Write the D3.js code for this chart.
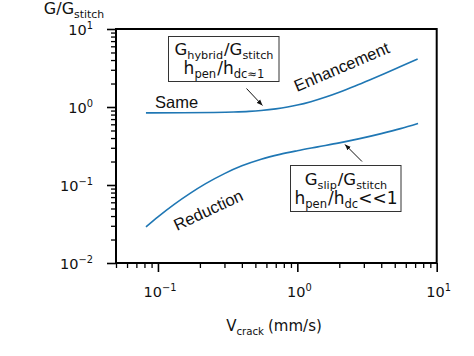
<!DOCTYPE html>
<html><head><meta charset="utf-8">
<script src="https://cdn.jsdelivr.net/npm/d3@7"></script>
<style>body{margin:0;background:#fff}svg{display:block}text{white-space:pre}</style></head>
<body><svg id="c" width="474" height="356"></svg>
<script>
// ---- data ----
const hybridV = [0.082, 0.15, 0.25, 0.35, 0.45, 0.55, 0.7, 0.85, 1.0, 1.25, 1.6, 2.0, 2.6, 3.3, 4.2, 5.4, 7.3];
const hybridG = [0.84, 0.843, 0.85, 0.862, 0.879, 0.902, 0.945, 0.998, 1.058, 1.171, 1.344, 1.55, 1.863, 2.224, 2.675, 3.256, 4.13];
const slipV = [0.082, 0.1, 0.13, 0.17, 0.22, 0.3, 0.4, 0.55, 0.75, 1.0, 1.4, 2.0, 2.8, 4.0, 5.5, 7.35];
const slipG = [0.029, 0.039, 0.056, 0.078, 0.104, 0.140, 0.176, 0.214, 0.247, 0.275, 0.308, 0.347, 0.393, 0.456, 0.528, 0.615];
const xMajor = [0.1, 1, 10];
const xExp = ["\u22121", "0", "1"];
const yMajor = [0.01, 0.1, 1, 10];
const yExp = ["\u22122", "\u22121", "0", "1"];

const svg = d3.select("#c");
const L = 116, R = 436.7, T = 29, B = 263;
const x = d3.scaleLog().domain([0.05, 10]).range([L, R]);
const y = d3.scaleLog().domain([0.01, 10]).range([B, T]);

const minorX = [], minorY = [];
[0.01, 0.1, 1].forEach(d => { for (let k = 2; k <= 9; k++) { const v = d * k;
  if (v >= 0.05 && v <= 10) minorX.push(v); if (v <= 10) minorY.push(v); } });

// axes
function styleAxis(g, w) { g.select(".domain").remove(); g.selectAll("line").attr("stroke", "#000").attr("stroke-width", w); g.selectAll("text").remove(); }
svg.append("g").attr("transform", `translate(0,${B})`).call(d3.axisBottom(x).tickValues(xMajor).tickSize(9)).call(g => styleAxis(g, 1.6));
svg.append("g").attr("transform", `translate(0,${B})`).call(d3.axisBottom(x).tickValues(minorX).tickSize(5)).call(g => styleAxis(g, 1.3));
svg.append("g").attr("transform", `translate(${L},0)`).call(d3.axisLeft(y).tickValues(yMajor).tickSize(9)).call(g => styleAxis(g, 1.6));
svg.append("g").attr("transform", `translate(${L},0)`).call(d3.axisLeft(y).tickValues(minorY).tickSize(5)).call(g => styleAxis(g, 1.3));

svg.append("rect").attr("x", L).attr("y", T).attr("width", R - L).attr("height", B - T)
  .attr("fill", "none").attr("stroke", "#000").attr("stroke-width", 2);

// rich text helper: lays out pieces as separate text runs, measured
function rich(x0, y0, parts, opts) {
  const g = svg.append("g");
  let cx = 0;
  parts.forEach(p => {
    const fs = p.s ? opts.size * 0.68 : opts.size;
    const dy = p.s === "sub" ? opts.size * 0.25 : p.s === "sup" ? -opts.size * 0.42 : 0;
    const t = g.append("text").attr("x", cx).attr("y", dy)
      .attr("font-family", opts.font || "DejaVu Sans")
      .attr("font-size", fs).attr("fill", "#111").text(p.t);
    cx += t.node().getComputedTextLength() + (p.gap || 0);
  });
  const a = opts.anchor || "start";
  const off = a === "middle" ? -cx / 2 : a === "end" ? -cx : 0;
  g.attr("transform", `translate(${x0 + off},${y0})`);
  return g;
}

// tick labels
xMajor.forEach((v, i) => rich(x(v) + 2, 297, [{t: "10"}, {t: xExp[i], s: "sup"}], {size: 14.5, anchor: "middle"}));
yMajor.forEach((v, i) => rich(93, y(v) + 6, [{t: "10"}, {t: yExp[i], s: "sup"}], {size: 14.5, anchor: "end"}));

// axis titles
rich(274, 331, [{t: "V"}, {t: "crack", s: "sub", gap: 4}, {t: "(mm/s)"}], {size: 15, anchor: "middle"});
rich(74, 14, [{t: "G/G"}, {t: "stitch", s: "sub"}], {size: 16, anchor: "middle"});

// curves
const line = d3.line().x(d => x(d[0])).y(d => y(d[1])).curve(d3.curveMonotoneX);
svg.append("path").datum(hybridV.map((v, i) => [v, hybridG[i]])).attr("d", line)
  .attr("fill", "none").attr("stroke", "#1f77b4").attr("stroke-width", 1.6);
svg.append("path").datum(slipV.map((v, i) => [v, slipG[i]])).attr("d", line)
  .attr("fill", "none").attr("stroke", "#1f77b4").attr("stroke-width", 1.6);

// region labels
const lab = (t, x0, y0, rot) => svg.append("text").attr("transform", `translate(${x0},${y0}) rotate(${rot})`)
  .attr("font-family", "Liberation Sans, Arial").attr("font-size", 16.5).attr("fill", "#111").text(t);
lab("Same", 155, 107.5, 0);
lab("Enhancement", 297, 92, -23);
lab("Reduction", 177, 231, -25);

// boxes
svg.append("rect").attr("x", 168.5).attr("y", 36.5).attr("width", 110.5).attr("height", 45)
  .attr("fill", "#fff").attr("stroke", "#333").attr("stroke-width", 1);
rich(224, 55, [{t: "G"}, {t: "hybrid", s: "sub", gap: 1}, {t: "/G"}, {t: "stitch", s: "sub"}], {size: 16.5, anchor: "middle"});
rich(224, 73.5, [{t: "h"}, {t: "pen", s: "sub", gap: 1}, {t: "/h"}, {t: "dc", s: "sub"}, {t: "\u22481", s: "sub"}], {size: 17, anchor: "middle"});

svg.append("rect").attr("x", 290.5).attr("y", 165.5).attr("width", 110.5).attr("height", 46)
  .attr("fill", "#fff").attr("stroke", "#333").attr("stroke-width", 1);
rich(346, 185, [{t: "G"}, {t: "slip", s: "sub", gap: 1}, {t: "/G"}, {t: "stitch", s: "sub"}], {size: 16.5, anchor: "middle"});
rich(346, 203.5, [{t: "h"}, {t: "pen", s: "sub", gap: 1}, {t: "/h"}, {t: "dc", s: "sub"}, {t: "<<1"}], {size: 17, anchor: "middle"});

// arrows
svg.append("defs").append("marker").attr("id", "ah").attr("viewBox", "0 0 10 10")
  .attr("refX", 10).attr("refY", 5).attr("markerWidth", 6).attr("markerHeight", 6)
  .attr("orient", "auto").append("path").attr("d", "M0,1 L10,5 L0,9 Z").attr("fill", "#111");
svg.append("line").attr("x1", 246.5).attr("y1", 88.5).attr("x2", 262.5).attr("y2", 105.5)
  .attr("stroke", "#111").attr("stroke-width", 1).attr("marker-end", "url(#ah)");
svg.append("line").attr("x1", 362).attr("y1", 161.5).attr("x2", 345).attr("y2", 144.5)
  .attr("stroke", "#111").attr("stroke-width", 1).attr("marker-end", "url(#ah)");
</script></body></html>
